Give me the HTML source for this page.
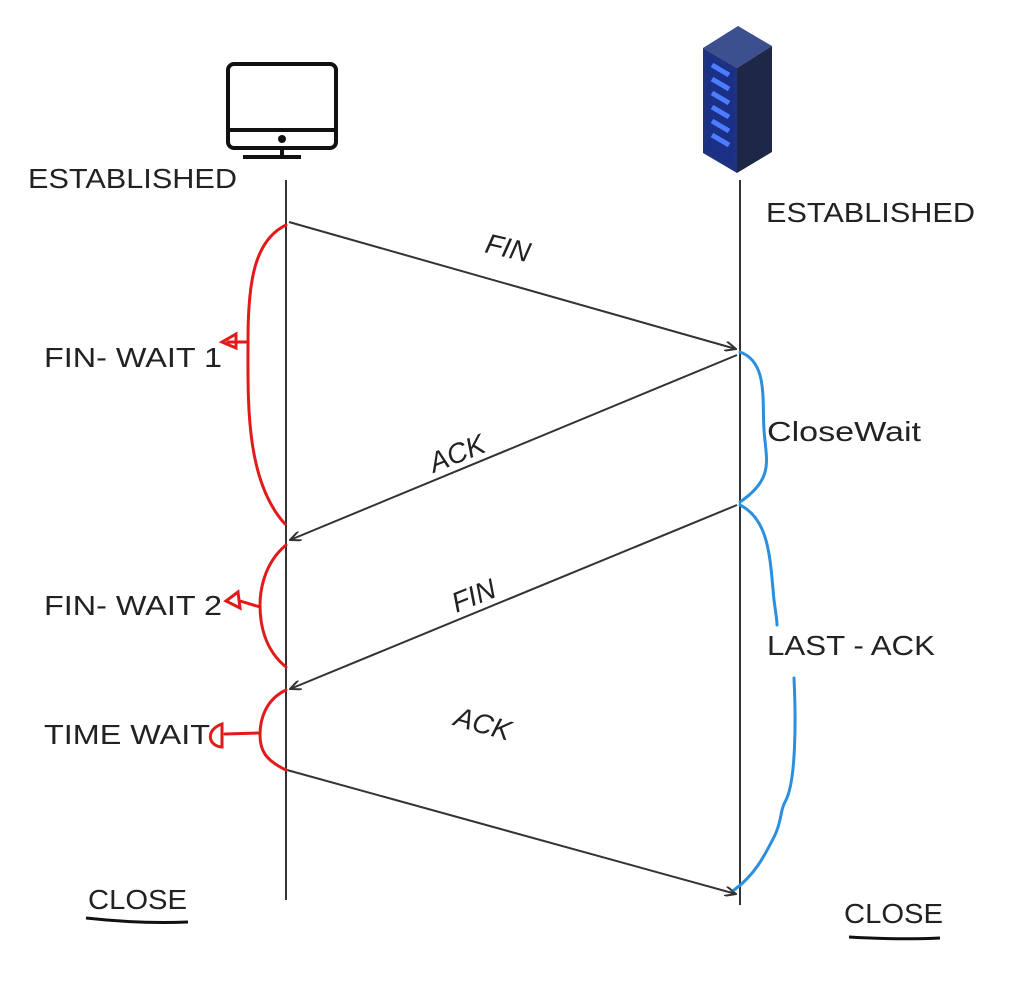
<!DOCTYPE html>
<html><head><meta charset="utf-8"><style>
html,body{margin:0;padding:0;background:#fff;}
svg text{font-family:"Liberation Sans",sans-serif;fill:#222;}
</style></head><body>
<svg width="1018" height="981" viewBox="0 0 1018 981" xmlns="http://www.w3.org/2000/svg">
<defs>
<marker id="a" markerWidth="12" markerHeight="10" refX="11" refY="5" orient="auto" markerUnits="userSpaceOnUse">
<path d="M0,0 L11,5 L0,10" fill="none" stroke="#333" stroke-width="2"/></marker>
</defs>
<!-- monitor -->
<rect x="228" y="64" width="108" height="84" rx="6" fill="none" stroke="#111" stroke-width="4"/>
<line x1="228" y1="130" x2="336" y2="130" stroke="#111" stroke-width="4"/>
<circle cx="282" cy="139" r="4" fill="#111"/>
<line x1="282" y1="148" x2="282" y2="156" stroke="#111" stroke-width="4"/>
<line x1="243" y1="157" x2="301" y2="157" stroke="#111" stroke-width="4"/>
<!-- server -->
<polygon points="703,48 738,26 772,46 737,68" fill="#3c4f8e"/>
<polygon points="703,48 737,68 737,173 703,153" fill="#1f3280"/>
<polygon points="707,56 734,72 734,166 707,150" fill="#1a2f86"/>
<g stroke="#4d7dff" stroke-width="5">
<line x1="712" y1="65" x2="729" y2="75"/>
<line x1="712" y1="79" x2="729" y2="89"/>
<line x1="712" y1="93" x2="729" y2="103"/>
<line x1="712" y1="107" x2="729" y2="117"/>
<line x1="712" y1="121" x2="729" y2="131"/>
<line x1="712" y1="135" x2="729" y2="145"/>
</g>
<polygon points="737,68 772,46 772,152 737,173" fill="#1d2747"/>
<!-- lifelines -->
<line x1="286" y1="180" x2="286" y2="900" stroke="#333" stroke-width="2"/>
<line x1="740" y1="180" x2="740" y2="905" stroke="#333" stroke-width="2"/>
<!-- arrows -->
<line x1="289" y1="222" x2="736" y2="349" stroke="#333" stroke-width="2" marker-end="url(#a)"/>
<line x1="737" y1="355" x2="290" y2="540" stroke="#333" stroke-width="2" marker-end="url(#a)"/>
<line x1="737" y1="505" x2="290" y2="689" stroke="#333" stroke-width="2" marker-end="url(#a)"/>
<line x1="287" y1="770" x2="736" y2="894" stroke="#333" stroke-width="2" marker-end="url(#a)"/>
<!-- labels -->
<g font-size="28">
<text x="28" y="188" textLength="209" lengthAdjust="spacingAndGlyphs">ESTABLISHED</text>
<text x="766" y="222" textLength="209" lengthAdjust="spacingAndGlyphs">ESTABLISHED</text>
<text x="44" y="367" textLength="178" lengthAdjust="spacingAndGlyphs">FIN- WAIT 1</text>
<text x="44" y="615" textLength="178" lengthAdjust="spacingAndGlyphs">FIN- WAIT 2</text>
<text x="44" y="744" textLength="166" lengthAdjust="spacingAndGlyphs">TIME WAIT</text>
<text x="767" y="441" textLength="154" lengthAdjust="spacingAndGlyphs">CloseWait</text>
<text x="767" y="655" textLength="168" lengthAdjust="spacingAndGlyphs">LAST - ACK</text>
<text x="88" y="909" textLength="99" lengthAdjust="spacingAndGlyphs">CLOSE</text>
<text x="844" y="923" textLength="99" lengthAdjust="spacingAndGlyphs">CLOSE</text>
<text x="485" y="258" transform="rotate(13 510 250)" font-style="italic">FIN</text>
<text x="425" y="463" transform="rotate(-22 455 445)" font-style="italic">ACK</text>
<text x="447" y="605" transform="rotate(-22 472 585)" font-style="italic">FIN</text>
<text x="453" y="734" transform="rotate(16 485 728)" font-style="italic">ACK</text>
</g>
<!-- underlines -->
<path d="M86,918 Q140,924 188,922" fill="none" stroke="#111" stroke-width="3"/>
<path d="M849,937 Q900,940 940,938" fill="none" stroke="#111" stroke-width="3"/>
<!-- red braces -->
<g fill="none" stroke="#e21a1a" stroke-width="3" stroke-linecap="round">
<path d="M286,225 C255,240 248,280 248,340 C248,400 245,480 285,524"/>
<path d="M248,342 L228,342 M236,334 L222,342 L236,348 Z"/>
<path d="M286,545 C262,565 260,595 260,605 C260,625 265,650 286,667"/>
<path d="M260,607 L240,601 M238,592 L226,601 L240,608 Z"/>
<path d="M286,690 C265,700 260,720 260,735 C260,750 265,760 286,770"/>
<path d="M259,733 L225,734 M222,724 C205,730 208,746 222,747 Z"/>
</g>
<!-- blue braces -->
<g fill="none" stroke="#2b8fe0" stroke-width="3" stroke-linecap="round">
<path d="M740,352 C768,362 762,400 764,430 C766,460 775,478 740,502"/>
<path d="M740,505 C770,520 770,560 774,600 C776,615 777,620 777,625"/>
<path d="M794,678 C796,720 796,780 786,800 C780,810 782,820 775,835 C765,855 755,875 734,890"/>
</g>
</svg>
</body></html>
